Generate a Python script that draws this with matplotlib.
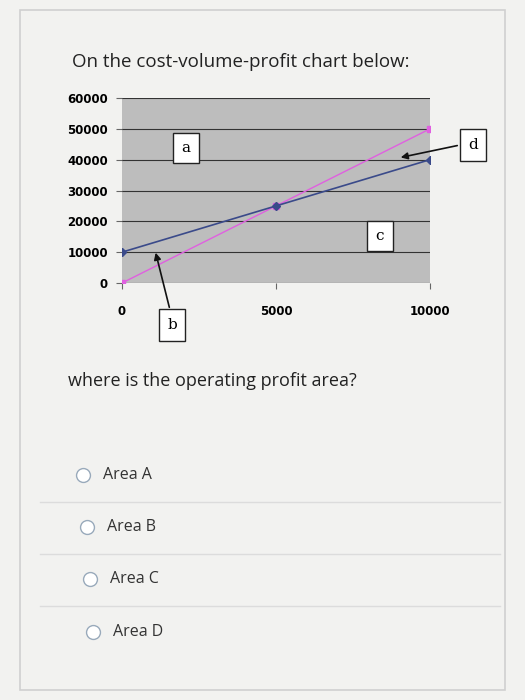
import matplotlib.pyplot as plt
from matplotlib.patches import Rectangle

units = [0, 5000, 10000]
revenue = [0, 25000, 50000]
cost = [10000, 25000, 40000]
yticks = [0, 10000, 20000, 30000, 40000, 50000, 60000]
xticks = [0, 5000, 10000]
options = ["Area A", "Area B", "Area C", "Area D"]

fig = plt.figure(figsize=(5.25, 7), dpi=100)
fig.patch.set_facecolor('#f2f2f0')
W, H = 525, 700
def fx(x): return x / W
def fy(y): return 1 - y / H

fig.add_artist(Rectangle((fx(20), fy(690)), fx(485), 680/H, transform=fig.transFigure,
                         fill=False, ec='#d0d0d0', lw=1.2))
fig.text(fx(72), fy(62), "On the cost-volume-profit chart below:", fontsize=13.5,
         family='Open Sans', va='center', color='#222')

ax = fig.add_axes([fx(122), fy(283), fx(430) - fx(122), (283 - 98) / H])
ax.set_facecolor('#bdbdbd')
ax.set_xlim(0, 10000)
ax.set_ylim(0, 60000)
ax.set_yticks(yticks)
ax.set_xticks(xticks)
ax.yaxis.grid(True, color='#333', lw=0.8)
ax.set_axisbelow(True)
for s in ax.spines.values():
    s.set_visible(False)
ax.tick_params(axis='both', length=4, color='#666', labelsize=8.5, pad=6)
for t in ax.get_yticklabels() + ax.get_xticklabels():
    t.set_fontweight('bold')
ax.tick_params(axis='x', pad=12)
ax.plot(units, revenue, color='#e060e0', lw=1, marker='s', ms=4)
ax.plot(units, cost, color='#3a4a8a', lw=1.2, marker='D', ms=4)

def box(x, y, s, w=26, h=30):
    fig.add_artist(Rectangle((fx(x - w / 2), fy(y + h / 2)), w / W, h / H,
                             transform=fig.transFigure, fc='white', ec='#222', lw=1))
    fig.text(fx(x), fy(y), s, ha='center', va='center', fontsize=11, family='DejaVu Serif')

box(186, 148, 'a')
box(172, 325, 'b', h=32)
box(380, 236, 'c')
box(473, 145, 'd', h=32)
fig.add_artist(plt.Annotation('', xy=(fx(155), fy(250)), xytext=(fx(170), fy(310)),
               xycoords='figure fraction', arrowprops=dict(arrowstyle='-|>', color='#111', lw=1.2)))
fig.add_artist(plt.Annotation('', xy=(fx(398), fy(158)), xytext=(fx(460), fy(145)),
               xycoords='figure fraction', arrowprops=dict(arrowstyle='-|>', color='#111', lw=1.2)))

fig.text(fx(68), fy(381), "where is the operating profit area?", fontsize=13,
         family='Open Sans', va='center', color='#222')

ys = [475, 527, 579, 632]
xs = [83, 87, 90, 93]
for i, (lab, y, x) in enumerate(zip(options, ys, xs)):
    fig.add_artist(plt.Line2D([fx(x)], [fy(y)], transform=fig.transFigure, marker='o',
                              ms=10, mfc='white', mec='#9ab', mew=1, ls='none'))
    fig.text(fx(x + 20), fy(y), lab, fontsize=11.5, family='Open Sans', va='center', color='#333')
    if i < 3:
        fig.add_artist(plt.Line2D([fx(40), fx(500)], [fy(y + 27), fy(y + 27)],
                                  transform=fig.transFigure, color='#dcdcdc', lw=1))

fig.savefig('out.png', dpi=100, facecolor=fig.get_facecolor())
